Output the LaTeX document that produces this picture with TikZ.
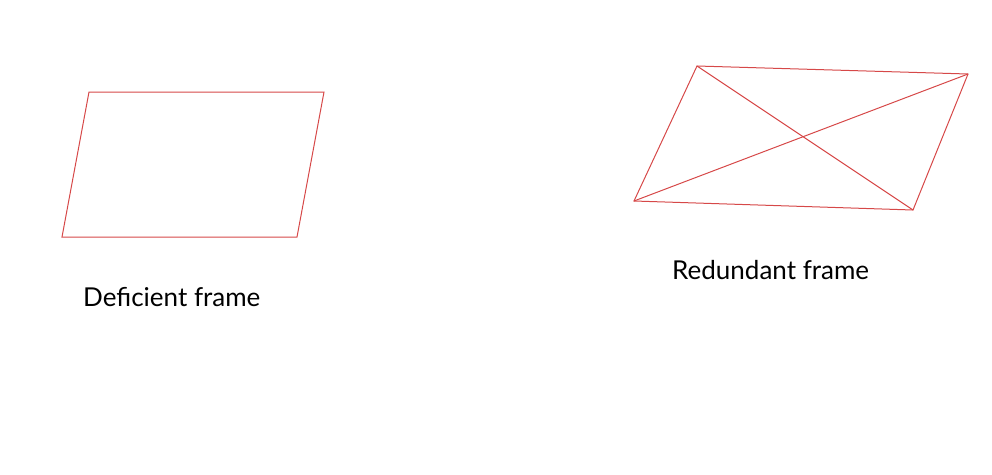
\documentclass[tikz,border=0pt]{standalone}
\usepackage{fontspec}
\setmainfont{Lato}
\definecolor{framered}{RGB}{214,72,72}
\tikzset{frameline/.style={draw=framered,line width=1pt,line join=miter},
  lbl/.style={font=\fontsize{26}{30}\selectfont,text=black,inner sep=0pt}}
\begin{document}
\begin{tikzpicture}[x=1pt,y=-1pt]
\useasboundingbox (0,0) rectangle (992,474);
% deficient
\coordinate (a1) at (89,92);
\coordinate (a2) at (324,92);
\coordinate (a3) at (297,237);
\coordinate (a4) at (62,237);
\draw[frameline] (a1) -- (a2) -- (a3) -- (a4) -- cycle;
% redundant
\coordinate (b1) at (697,66);
\coordinate (b2) at (968,74);
\coordinate (b3) at (913,210);
\coordinate (b4) at (634,201);
\draw[frameline] (b1) -- (b2) -- (b3) -- (b4) -- cycle;
\draw[frameline] (b1) -- (b3);
\draw[frameline] (b4) -- (b2);
\node[lbl,anchor=base west] (l1) at (83,306) {Deficient frame};
\node[lbl,anchor=base west] (l2) at (672,279) {Redundant frame};
\end{tikzpicture}
\end{document}
